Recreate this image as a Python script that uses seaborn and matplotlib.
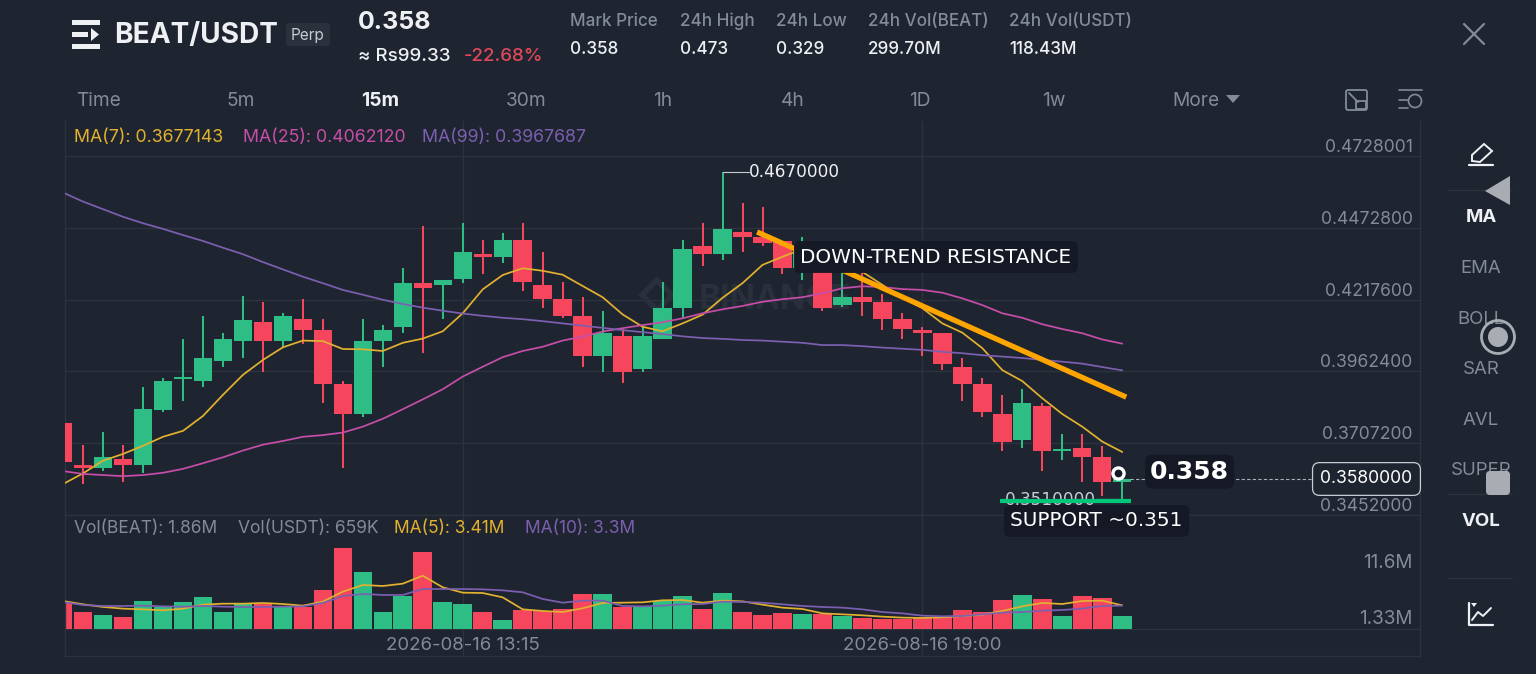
import matplotlib
matplotlib.use("Agg")
import matplotlib.pyplot as plt
import seaborn as sns
import pandas as pd
from matplotlib.patches import FancyBboxPatch, Polygon, Circle, Rectangle

# candles, oldest first
opens = [.3778, .3629, .3620, .3650, .3630, .3825, .3935, .3929, .4000, .4069, .4138, .4069, .4149, .4109, .3919, .3810, .4069, .4119,
         .4278, .4270, .4290, .4379, .4369, .4428, .4268, .4219, .4159, .4018, .4089, .3970, .4079, .4189, .4407, .4379, .4458, .4439,
         .4427, .4329, .4329, .4200, .4228, .4208, .4149, .4111, .4099, .3978, .3919, .3810, .3720, .3839, .3681, .3689, .3658, .3570]
highs = [.3778, .3700, .3748, .3700, .3908, .3938, .4078, .4159, .4099, .4230, .4209, .4169, .4219, .4149, .3928, .4149, .4128, .4329,
         .4479, .4288, .4489, .4429, .4453, .4489, .4388, .4279, .4228, .4178, .4116, .4121, .4279, .4429, .4489, .4670, .4560, .4548,
         .4427, .4440, .4340, .4319, .4319, .4238, .4169, .4119, .4099, .4009, .3939, .3879, .3899, .3849, .3739, .3739, .3697, .3580]
lows = [.3640, .3561, .3610, .3568, .3600, .3819, .3858, .3908, .3979, .4009, .3959, .4048, .4060, .3851, .3620, .3799, .3979, .4099,
        .4029, .4149, .4278, .4309, .4349, .4249, .4189, .4153, .3979, .3959, .3920, .3959, .4079, .4149, .4338, .4358, .4388, .4409,
        .4309, .4287, .4178, .4190, .4159, .4110, .4079, .4018, .3968, .3858, .3799, .3681, .3689, .3610, .3648, .3568, .3520, .3510]
closes = [.3640, .3619, .3657, .3630, .3828, .3928, .3943, .4009, .4078, .4146, .4069, .4159, .4109, .3919, .3810, .4069, .4109, .4278,
          .4260, .4288, .4388, .4369, .4428, .4279, .4219, .4159, .4018, .4099, .3959, .4088, .4189, .4397, .4379, .4469, .4439, .4419,
          .4329, .4405, .4188, .4228, .4209, .4149, .4112, .4100, .3989, .3919, .3819, .3710, .3849, .3681, .3688, .3658, .3568, .3580]

ma7 = [.3562, .3600, .3645, .3669, .3698, .3730, .3751, .3804, .3879, .3950, .4003, .4048, .4072, .4070, .4042, .4041, .4035, .4064,
       .4079, .4105, .4169, .4254, .4305, .4329, .4320, .4306, .4266, .4226, .4165, .4121, .4105, .4133, .4164, .4224, .4276, .4341,
       .4370, .4397, .4366, .4341, .4316, .4270, .4224, .4187, .4133, .4100, .4045, .3967, .3928, .3867, .3811, .3766, .3713, .3676]
ma25 = [.3608, .3598, .3594, .3590, .3594, .3602, .3616, .3636, .3657, .3681, .3702, .3715, .3730, .3736, .3745, .3766, .3794, .3828,
        .3863, .3899, .3944, .3979, .4013, .4035, .4050, .4072, .4086, .4104, .4116, .4127, .4137, .4151, .4169, .4183, .4195, .4210,
        .4219, .4226, .4240, .4258, .4265, .4262, .4255, .4252, .4242, .4222, .4198, .4169, .4153, .4130, .4113, .4098, .4076, .4061]
ma99 = [.4598, .4566, .4539, .4512, .4489, .4469, .4447, .4426, .4402, .4379, .4351, .4325, .4299, .4276, .4252, .4235, .4217, .4202,
        .4189, .4178, .4168, .4160, .4153, .4148, .4141, .4133, .4125, .4117, .4109, .4102, .4095, .4087, .4081, .4078, .4074, .4072,
        .4068, .4064, .4056, .4056, .4052, .4047, .4043, .4039, .4032, .4027, .4020, .4015, .4010, .4003, .3997, .3990, .3978, .3966]

# volume in millions
volume = [3.66, 2.47, 1.95, 1.66, 3.99, 3.18, 3.85, 4.56, 2.47, 3.52, 3.52, 3.09, 3.18, 5.56, 11.6, 8.12, 2.42, 4.70,
          10.97, 3.80, 3.56, 2.47, 1.33, 2.66, 2.61, 2.80, 4.99, 4.99, 3.18, 3.18, 3.99, 4.70, 2.85, 5.13, 2.42, 2.04,
          2.33, 2.19, 2.19, 1.90, 1.62, 1.43, 1.38, 1.76, 1.66, 2.71, 2.42, 4.13, 4.85, 4.28, 1.85, 4.75, 4.42, 1.86]
vol_ma5 = [3.99, 3.52, 3.14, 2.90, 2.80, 2.66, 2.90, 3.47, 3.61, 3.61, 3.71, 3.56, 3.33, 3.90, 5.32, 6.27, 6.13, 6.46,
           7.60, 5.94, 5.18, 5.13, 4.51, 2.80, 2.57, 2.42, 2.95, 3.71, 3.75, 3.80, 4.09, 4.13, 3.75, 4.04, 3.94, 3.47,
           3.04, 2.85, 2.23, 2.09, 1.95, 1.76, 1.62, 1.57, 1.66, 1.85, 2.04, 2.57, 3.23, 3.71, 3.56, 3.99, 4.04, 3.37]
vol_ma10 = [3.85, 3.42, 3.28, 3.28, 3.33, 3.23, 3.18, 3.28, 3.18, 3.14, 3.14, 3.18, 3.23, 3.71, 4.70, 4.99, 4.85, 4.85,
            5.70, 5.70, 5.70, 5.65, 5.51, 5.23, 4.28, 3.75, 4.04, 4.04, 3.28, 3.23, 3.33, 3.52, 3.56, 3.90, 3.85, 3.75,
            3.52, 3.28, 3.14, 3.04, 2.80, 2.42, 2.23, 1.90, 1.81, 1.85, 2.09, 2.33, 2.42, 2.61, 2.71, 2.90, 3.28, 3.33]

price_ticks = [0.4728001, 0.44728, 0.42176, 0.39624, 0.37072, 0.3452]
price_labels = ["0.4728001", "0.4472800", "0.4217600", "0.3962400", "0.3707200", "0.3452000"]
date_ticks = [20, 43]
date_labels = ["2026-08-16 13:15", "2026-08-16 19:00"]

# drawn-on trend annotations: (candle index, price)
resistance_x, resistance_y = [34.73, 53.2], [.4458, .3871]
support_x, support_y = [46.9, 53.45], [.3503, .3503]
last_price = 0.358
high_price = 0.467
low_price = 0.351

BG = "#1f2530"
GRID = "#2c333f"
GREEN = "#2ebd85"
RED = "#f6465d"
YELLOW = "#e2b12f"
PINK = "#c64ea8"
PURPLE = "#7c5fb0"
GRAY = "#838b96"
WHITE = "#eef0f3"
BOX = "#141925"

sns.set_theme(style="dark", rc={"axes.facecolor": BG, "figure.facecolor": BG})
plt.rcParams["font.family"] = ["Inter", "DejaVu Sans"]

W, H = 1536, 674
fig = plt.figure(figsize=(W / 100, H / 100), dpi=100)


def px_axes(x0, y0, x1, y1):
    return fig.add_axes([x0 / W, 1 - y1 / H, (x1 - x0) / W, (y1 - y0) / H])


idx = list(range(len(opens)))
sides = ["up" if c >= o else "down" for o, c in zip(opens, closes)]
palette = {"up": GREEN, "down": RED}
colors = [palette[s] for s in sides]
xlim = (0.098, 67.9)

# volume panel
ax_vol = px_axes(65, 515, 1420, 656)
vol_df = pd.DataFrame({"i": idx, "vol": volume, "side": sides})
sns.barplot(vol_df, x="i", y="vol", hue="side", palette=palette, native_scale=True, dodge=False,
            width=0.93, saturation=1, legend=False, ax=ax_vol, zorder=2, linewidth=0)
sns.lineplot(x=idx, y=vol_ma5, color=YELLOW, lw=1.25, ax=ax_vol, zorder=3)
sns.lineplot(x=idx, y=vol_ma10, color=PURPLE, lw=1.25, ax=ax_vol, zorder=4)
ax_vol.set_xlim(xlim)
ax_vol.set_ylim(-3.85, 16.25)
ax_vol.set_yticks([0])
ax_vol.set_xticks(date_ticks)
ax_vol.set_xticklabels([])
ax_vol.set_yticklabels([])
ax_vol.set_xlabel("")
ax_vol.set_ylabel("")
ax_vol.grid(True, color=GRID, lw=1)
ax_vol.tick_params(length=0)
for name in ["top", "left", "right", "bottom"]:
    ax_vol.spines[name].set_visible(True)
    ax_vol.spines[name].set_color(GRID)
    ax_vol.spines[name].set_linewidth(1)
for i, lab in zip(date_ticks, date_labels):
    ax_vol.text(i, -2.3, lab, color=GRAY, fontsize=13.4, ha="center", va="center")
for frac, lab in [(0.66, "11.6M"), (0.26, "1.33M")]:
    ax_vol.text(0.9945, frac, lab, color=GRAY, fontsize=13.6, ha="right", va="center", transform=ax_vol.transAxes)

# price panel
ax = px_axes(65, 121, 1420, 515)
ax.set_zorder(5)
ax.patch.set_alpha(0)
ax.vlines(idx, lows, highs, colors=colors, lw=1.45, zorder=2)
ax.bar(idx, [abs(c - o) for o, c in zip(opens, closes)], bottom=[min(o, c) for o, c in zip(opens, closes)],
       width=0.92, color=colors, linewidth=0, zorder=3)
ma_df = pd.DataFrame({"i": idx * 3, "value": ma7 + ma25 + ma99,
                      "ma": ["MA7"] * len(idx) + ["MA25"] * len(idx) + ["MA99"] * len(idx)})
sns.lineplot(ma_df, x="i", y="value", hue="ma", palette={"MA7": YELLOW, "MA25": PINK, "MA99": PURPLE},
             lw=1.25, legend=False, ax=ax, zorder=4)
ax.set_xlim(xlim)
ax.set_ylim(0.3452, 0.48524)
ax.set_yticks(price_ticks)
ax.set_xticks(date_ticks)
ax.set_xticklabels([])
ax.set_yticklabels([])
ax.set_xlabel("")
ax.set_ylabel("")
ax.grid(True, color=GRID, lw=1)
ax.tick_params(length=0)
for name in ["top", "bottom"]:
    ax.spines[name].set_visible(False)
for name in ["left", "right"]:
    ax.spines[name].set_visible(True)
    ax.spines[name].set_color(GRID)
    ax.spines[name].set_linewidth(1)
for val, lab in zip(price_ticks, price_labels):
    ax.annotate(lab, xy=(0.9945, val), xycoords=ax.get_yaxis_transform(), xytext=(0, 0), textcoords="offset points",
                color=GRAY, fontsize=12.6, ha="right", va="bottom", zorder=6)

# watermark
ax.text(35.6, 0.42176, "BINANCE", color="#2a303b", fontsize=24, fontweight="bold", ha="center", va="center", zorder=1)
ax.plot([29.7], [0.4235], marker="D", ms=15, mfc="none", mec="#2a303b", mew=4, zorder=1)

# last price guide and high/low tags
ax.plot([53.4, 62.6], [last_price, last_price], color="#aab0b8", lw=0.8, ls=(0, (3, 2)), zorder=4)
ax.plot([33, 33, 34.3], [highs[33], high_price, high_price], color="#c8ccd2", lw=0.8, zorder=4)
dj = ["DejaVu Sans"]
ax.text(34.3, high_price, "0.4670000", color=WHITE, fontsize=12.2, family=dj, va="center", zorder=6)
ax.plot([51.7, 53], [low_price, low_price], color="#c8ccd2", lw=0.8, zorder=4)
ax.text(47.15, low_price - 0.0006, "0.3510000", color="#c8ccd2", fontsize=12.2, family=dj, va="center", zorder=6)

# hand drawn lines and labels
ax.plot(resistance_x, resistance_y, color="#ffa500", lw=3.8, zorder=7, solid_capstyle="butt")
ax.plot(support_x, support_y, color="#00c878", lw=3, zorder=7, solid_capstyle="butt")
ax.plot([52.8], [0.3600], marker="o", ms=8, mfc=BOX, mec="white", mew=2.4, zorder=8, clip_on=False)
box = dict(boxstyle="round,pad=0.32,rounding_size=0.3", fc=BOX, ec="none")
ax.text(36.9, 0.4369, "DOWN-TREND RESISTANCE", color="white", fontsize=14.4, family=dj, va="center", zorder=9, bbox=box)
ax.text(47.4, 0.3431, "SUPPORT ~0.351", color="white", fontsize=14.4, family=dj, va="center", zorder=9, bbox=box, clip_on=False)
ax.text(54.4, 0.3606, "0.358", color="white", fontsize=18, fontweight="bold", family=dj, va="center", zorder=9,
        bbox=dict(boxstyle="round,pad=0.2,rounding_size=0.3", fc=BOX, ec="none"))
ax.annotate("0.3580000", xy=(0.9945, last_price), xycoords=ax.get_yaxis_transform(), color="white", fontsize=12.6,
            ha="right", va="center", zorder=9,
            bbox=dict(boxstyle="round,pad=0.45,rounding_size=0.4", fc=BG, ec="#c8ccd2", lw=0.9))

# app chrome, in pixels
ui = fig.add_axes([0, 0, 1, 1], zorder=10)
ui.set_xlim(0, W)
ui.set_ylim(H, 0)
ui.axis("off")
ui.patch.set_alpha(0)


def label(x, y, s, color=GRAY, size=12.5, weight="normal", ha="left"):
    ui.text(x, y + 1.7, s, color=color, fontsize=size, fontweight=weight, ha=ha, va="center")


for y in [22, 34, 46]:
    ui.add_patch(Rectangle((72, y - 2.5), 28 if y != 34 else 16, 5, fc=WHITE, ec="none"))
ui.add_patch(Polygon([[91, 28], [99, 34.5], [91, 41]], fc=WHITE, ec="none"))
label(114, 34, "BEAT/USDT", WHITE, 20.2, "bold")
ui.add_patch(FancyBboxPatch((288, 25), 40, 19, boxstyle="round,pad=2,rounding_size=3", fc="#2a313c", ec="none"))
label(308, 34, "Perp", "#c8ccd2", 11, ha="center")
label(358, 21, "0.358", WHITE, 18, "bold")
label(358, 55, "≈ Rs99.33", WHITE, 13.5, "medium")
label(464, 55, "-22.68%", "#e0485a", 13.5, "medium")
for x, top, val in zip([570, 680, 776, 868, 1009],
                       ["Mark Price", "24h High", "24h Low", "24h Vol(BEAT)", "24h Vol(USDT)"],
                       ["0.358", "0.473", "0.329", "299.70M", "118.43M"]):
    label(x, 20, top, GRAY, 12.3, "medium")
    label(x, 48, val, WHITE, 12.3, "medium")
ui.plot([1464, 1484], [24, 44], color=GRAY, lw=1.6)
ui.plot([1464, 1484], [44, 24], color=GRAY, lw=1.6)

for x, s in zip([76, 226, 506, 653, 781, 909, 1042, 1172], ["Time", "5m", "30m", "1h", "4h", "1D", "1w", "More"]):
    label(x, 99, s, GRAY, 13.8)
label(361, 99, "15m", WHITE, 13.8, "bold")
ui.add_patch(Polygon([[1226, 95], [1240, 95], [1233, 103]], fc=GRAY, ec="none"))
ui.add_patch(FancyBboxPatch((1346, 90), 21, 20, boxstyle="round,pad=0,rounding_size=2", fc="none", ec=GRAY, lw=1.3))
ui.add_patch(Rectangle((1356, 101), 10, 8, fc=BG, ec=GRAY, lw=1.3))
ui.plot([1349, 1358], [93, 102], color=GRAY, lw=1.3)
for y, x1 in [(90, 1422), (100, 1408), (108, 1408)]:
    ui.plot([1399, x1], [y, y], color=GRAY, lw=1.2)
ui.add_patch(Circle((1415, 101), 6.5, fc="none", ec=GRAY, lw=1.2))

for x, s, c in zip([74, 243, 422], ["MA(7): 0.3677143", "MA(25): 0.4062120", "MA(99): 0.3967687"], [YELLOW, PINK, PURPLE]):
    label(x, 136, s, c, 12.8)
for x, s, c in zip([74, 238, 394, 525], ["Vol(BEAT): 1.86M", "Vol(USDT): 659K", "MA(5): 3.41M", "MA(10): 3.3M"],
                   [GRAY, GRAY, YELLOW, PURPLE]):
    label(x, 527, s, c, 12.5)

# right tool rail
for y, s in zip([267, 318, 368, 419, 469], ["EMA", "BOLL", "SAR", "AVL", "SUPER"]):
    label(1481, y, s, GRAY, 13.4, ha="center")
label(1481, 216, "MA", WHITE, 13.4, "bold", ha="center")
label(1481, 520, "VOL", WHITE, 13.4, "bold", ha="center")
for y in [190, 494, 578]:
    ui.plot([1448, 1512], [y, y], color=GRID, lw=1, zorder=1)
ui.plot([1469, 1493], [165, 165], color=WHITE, lw=1.6)
ui.add_patch(Polygon([[1472, 161], [1472, 155], [1484, 144], [1492, 151], [1480, 162]], fc="none", ec=WHITE, lw=1.4))
ui.plot([1469, 1469, 1493], [603, 625, 625], color=WHITE, lw=1.6)
ui.plot([1472, 1478, 1483, 1491], [620, 612, 616, 608], color=WHITE, lw=1.4)
ui.add_patch(Polygon([[1471, 603], [1477, 603], [1474, 607]], fc=WHITE, ec="none"))

# phone nav overlay
ui.add_patch(Polygon([[1485, 191], [1510, 176], [1510, 205]], fc="#a9adb3", ec="none", zorder=5))
ui.add_patch(Circle((1498, 337), 16.5, fc="none", ec="#a9adb3", lw=2, zorder=5))
ui.add_patch(Circle((1498, 337), 10, fc="#a9adb3", ec="none", zorder=5))
ui.add_patch(FancyBboxPatch((1488, 473), 20, 20, boxstyle="round,pad=2,rounding_size=4", fc="#a9adb3", ec="none", zorder=5))

fig.savefig("out.png", dpi=100, facecolor=BG)
